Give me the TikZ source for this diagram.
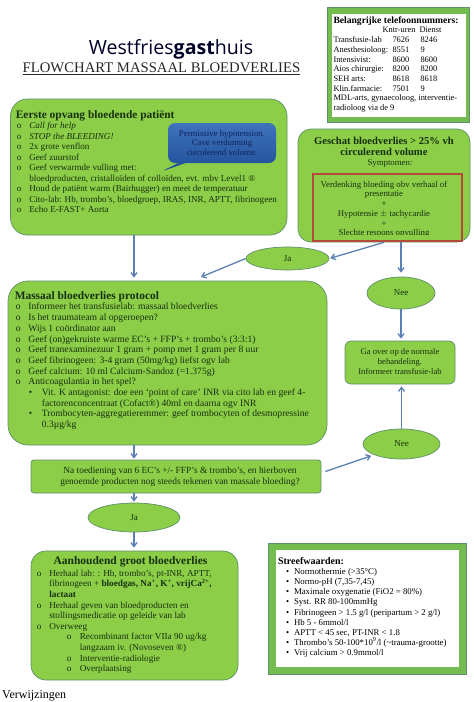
\documentclass[tikz,border=0pt]{standalone}
\usepackage{fontspec}
\setmainfont{Liberation Serif}
\newfontfamily\logofont{Open Sans}
\usetikzlibrary{arrows.meta,calc,positioning,shapes.geometric,shapes.callouts}
\definecolor{FlowGreen}{HTML}{8CCE47}
\definecolor{FlowEdge}{HTML}{5F8F6B}
\definecolor{FlowBlue}{HTML}{5B7FB5}
\definecolor{PanelGreen}{HTML}{74BC50}
\definecolor{AlarmRed}{HTML}{B5493A}
\definecolor{InkGreen}{HTML}{16300F}
\definecolor{CalloutTop}{HTML}{3F73BC}
\definecolor{CalloutBottom}{HTML}{1F4E98}
\definecolor{CalloutInk}{HTML}{10245A}
\newcommand{\oline}[1]{\hspace*{1pt}\makebox[12.5pt][l]{o}#1}
\newcommand{\oindent}[1]{\hspace*{13.5pt}#1}
\newcommand{\dotline}[1]{\hspace*{14pt}\makebox[13pt][l]{\textbullet}#1}
\newcommand{\dotindent}[1]{\hspace*{27pt}#1}
\newcommand{\subline}[1]{\hspace*{31pt}\makebox[13pt][l]{o}#1}
\newcommand{\subindent}[1]{\hspace*{44pt}#1}
\newcommand{\panelline}[1]{\hspace*{8pt}\makebox[8pt][l]{\textbullet}#1}

\begin{document}
\begin{tikzpicture}[x=1pt,y=-1pt,>={Straight Barb[length=4pt,width=6pt]},
  flowbox/.style={draw=FlowEdge,fill=FlowGreen,line width=0.7pt,inner sep=0pt},
  flowoval/.style={ellipse,draw=FlowEdge,fill=FlowGreen,line width=0.7pt,inner sep=0pt,font=\fontsize{9}{10.5}\selectfont,text=InkGreen},
  flowtext/.style={align=left,inner sep=0pt,text=InkGreen,font=\fontsize{9.6}{10.7}\selectfont},
  midtext/.style={align=center,inner sep=0pt,text=InkGreen,font=\fontsize{9}{10}\selectfont},
  panelouter/.style={draw=FlowEdge,fill=PanelGreen,line width=0.6pt,inner sep=0pt},
  panelinner/.style={fill=white,inner sep=0pt},
  flow/.style={->,FlowBlue,line width=1.3pt}]
  \useasboundingbox (0,0) rectangle (474,702);

  \node[inner sep=0pt,text=black!85!blue,font=\logofont\fontsize{19.6}{21}\selectfont] (logo) at (171,49) {Westfries\textbf{gast}huis};
  \node[inner sep=0pt,text=black!85,font=\fontsize{14.7}{18}\selectfont] (title) at (161.5,69) {\underline{FLOWCHART MASSAAL BLOEDVERLIES}};

  % phone numbers
  \node[panelouter,minimum width=142pt,minimum height=115pt] (phoneouter) at (398,64.5) {};
  \node[panelinner,minimum width=134pt,minimum height=103pt] (phone) at (399,65.5) {};
  \node[flowtext,text=black,font=\fontsize{8.4}{9.7}\selectfont,below right=2.5pt and 1.5pt of phone.north west] (phonetext) {%
    {\fontsize{9.6}{10}\selectfont\textbf{Belangrijke telefoonnummers:}}\\
    \makebox[82pt][r]{Kntr-uren}\hspace{4pt}Dienst\\
    \makebox[59pt][l]{Transfusie-lab}\makebox[28pt][l]{7626}8246\\
    \makebox[59pt][l]{Anesthesioloog:}\makebox[28pt][l]{8551}9\\
    \makebox[59pt][l]{Intensivist:}\makebox[28pt][l]{8600}8600\\
    \makebox[59pt][l]{Aios chirurgie:}\makebox[28pt][l]{8200}8200\\
    \makebox[59pt][l]{SEH arts:}\makebox[28pt][l]{8618}8618\\
    \makebox[59pt][l]{Klin.farmacie:}\makebox[28pt][l]{7501}9\\
    MDL-arts, gynaecoloog, interventie-\\
    radioloog via de 9};

  % first box
  \node[flowbox,rounded corners=17pt,minimum width=276.5pt,minimum height=136pt] (first) at (148.75,167) {};
  \node[flowtext,font=\fontsize{9.1}{10.5}\selectfont,below right=11.5pt and 5.5pt of first.north west] (firsttext) {%
    {\fontsize{11.4}{12}\selectfont\textbf{Eerste opvang bloedende patiënt}}\\
    \oline{\textit{Call for help}}\\
    \oline{\textit{STOP the BLEEDING!}}\\
    \oline{2x grote venflon}\\
    \oline{Geef zuurstof}\\
    \oline{Geef verwarmde vulling met:}\\
    \oindent{bloedproducten, cristalloïden of colloïden, evt. mbv Level1 ®}\\
    \oline{Houd de patiënt warm (Bairhugger) en meet de temperatuur}\\
    \oline{Cito-lab: Hb, trombo's, bloedgroep, IRAS, INR, APTT, fibrinogeen}\\
    \oline{Echo E-FAST+ Aorta}};
  \node[rectangle callout,rounded corners=7pt,draw=none,top color=CalloutTop,bottom color=CalloutBottom,
    minimum width=108pt,minimum height=40pt,inner sep=0pt,align=center,text=CalloutInk,font=\fontsize{8.8}{9.4}\selectfont,
    callout absolute pointer={(160,172)}] (permissive) at (222,143) {Permissive hypotension.\\Cave verdunning\\circulerend volume.};

  % estimated loss
  \node[flowbox,rounded corners=13pt,minimum width=172pt,minimum height=113pt] (geschat) at (384,185.5) {};
  \node[midtext,font=\fontsize{10.6}{11.6}\selectfont,below=8pt of geschat.north] (geschattext) {\textbf{Geschat bloedverlies > 25\% vh}\\\textbf{circulerend volume}};
  \node[midtext,font=\fontsize{8.8}{10}\selectfont] (symptomen) at (390,164) {Symptomen:};
  \node[minimum width=149pt,minimum height=67pt,inner sep=0pt] (alarm) at (387.5,207.5) {};
  \begin{scope}
    \clip (alarm.north west) rectangle ($(alarm.south east)+(0,-7)$);
    \node[midtext,font=\fontsize{8.8}{9.7}\selectfont,below=7pt of alarm.north,xshift=-3.5pt] (alarmtext) {Verdenking bloeding obv verhaal of\\presentatie\\+\\Hypotensie $\pm$ tachycardie\\+\\Slechte respons opvulling};
  \end{scope}
  \node[draw=AlarmRed,line width=1.6pt,minimum width=149pt,minimum height=67pt,inner sep=0pt] (alarmframe) at (alarm) {};

  % ovals and side box
  \node[flowoval,minimum width=83pt,minimum height=23pt] (jatop) at (287.5,258.5) {Ja};
  \node[flowoval,minimum width=68pt,minimum height=32pt] (neetop) at (401,293) {Nee};
  \node[flowbox,rounded corners=6pt,minimum width=110pt,minimum height=43pt] (normal) at (400,362.5) {};
  \node[midtext,font=\fontsize{8.6}{9.6}\selectfont,yshift=1pt] (normaltext) at (normal) {Ga over op de normale\\behandeling.\\Informeer transfusie-lab};
  \node[flowoval,minimum width=77pt,minimum height=30pt] (neelow) at (401.5,444) {Nee};

  % protocol
  \node[flowbox,rounded corners=20pt,minimum width=319pt,minimum height=164pt] (massaal) at (167.5,363) {};
  \node[flowtext,below right=10.5pt and 7pt of massaal.north west] (massaaltext) {%
    {\fontsize{11.4}{12}\selectfont\textbf{Massaal bloedverlies protocol}}\\
    \oline{Informeer het transfusielab: massaal bloedverlies}\\
    \oline{Is het traumateam al opgeroepen?}\\
    \oline{Wijs 1 coördinator aan}\\
    \oline{Geef (on)gekruiste warme EC's + FFP's + trombo's (3:3:1)}\\
    \oline{Geef tranexaminezuur 1 gram + pomp met 1 gram per 8 uur}\\
    \oline{Geef fibrinogeen: 3-4 gram (50mg/kg) liefst ogv lab}\\
    \oline{Geef calcium: 10 ml Calcium-Sandoz (=1.375g)}\\
    \oline{Anticoagulantia in het spel?}\\
    \dotline{Vit. K antagonist: doe een `point of care' INR via cito lab en geef 4-}\\
    \dotindent{factorenconcentraat (Cofact®) 40ml en daarna ogv INR}\\
    \dotline{Trombocyten-aggregatieremmer: geef trombocyten of desmopressine}\\
    \dotindent{0.3µg/kg}};

  % question
  \node[flowbox,rounded corners=3pt,minimum width=290pt,minimum height=33pt] (question) at (176,476.5) {};
  \node[midtext,font=\fontsize{9.4}{10.8}\selectfont,xshift=4pt] (questiontext) at (question) {Na toediening van 6 EC's +/- FFP's \& trombo's, en hierboven\\genoemde producten nog steeds tekenen van massale bloeding?};
  \node[flowoval,minimum width=92pt,minimum height=29pt] (jalow) at (134,517.5) {Ja};

  % persistent loss
  \node[flowbox,rounded corners=15pt,minimum width=207pt,minimum height=129pt] (aanhoudend) at (134.5,615.5) {};
  \node[midtext,font=\fontsize{11.5}{12}\selectfont,below=6pt of aanhoudend.north,xshift=-4pt] (aanhoudendtitle) {\textbf{Aanhoudend groot bloedverlies}};
  \node[flowtext,font=\fontsize{9.2}{10.6}\selectfont,below right=19pt and 5pt of aanhoudend.north west] (aanhoudendtext) {%
    \oline{Herhaal lab: : Hb, trombo's, pt-INR, APTT,}\\
    \oindent{fibrinogeen + \textbf{bloedgas, Na\textsuperscript{+}, K\textsuperscript{+}, vrijCa\textsuperscript{2+},}}\\
    \oindent{\textbf{lactaat}}\\
    \oline{Herhaal geven van bloedproducten en}\\
    \oindent{stollingsmedicatie op geleide van lab}\\
    \oline{Overweeg}\\
    \subline{Recombinant factor VIIa 90 ug/kg}\\
    \subindent{langzaam iv. (Novoseven ®)}\\
    \subline{Interventie-radiologie}\\
    \subline{Overplaatsing}};

  % targets
  \node[panelouter,minimum width=198pt,minimum height=131pt] (streefouter) at (367,608.5) {};
  \node[panelinner,minimum width=183pt,minimum height=117pt] (streef) at (367.5,608.5) {};
  \node[flowtext,text=black,font=\fontsize{8.8}{10.1}\selectfont,below right=7.5pt and 2pt of streef.north west] (streeftext) {%
    {\fontsize{10}{10.6}\selectfont\textbf{Streefwaarden:}}\\
    \panelline{Normothermie (>35°C)}\\
    \panelline{Normo-pH (7,35-7,45)}\\
    \panelline{Maximale oxygenatie (FiO2 = 80\%)}\\
    \panelline{Syst. RR 80-100mmHg}\\
    \panelline{Fibrinogeen > 1.5 g/l (peripartum > 2 g/l)}\\
    \panelline{Hb 5 - 6mmol/l}\\
    \panelline{APTT < 45 sec, PT-INR < 1.8}\\
    \panelline{Thrombo's 50-100*10\textsuperscript{9}/l (\textasciitilde trauma-grootte)}\\
    \panelline{Vrij calcium > 0.9mmol/l}};

  \node[anchor=base west,inner sep=0pt,font=\fontsize{12}{13}\selectfont] (verwijzingen) at (2,698) {Verwijzingen};

  % connectors
  \coordinate (midline) at (134,0);
  \coordinate (jatip) at (201,277);
  \draw[flow,shorten >=3pt] (first.south -| midline) -- (massaal.north -| midline);
  \draw[flow,shorten >=1pt] (geschat.south) -- (jatop.east);
  \draw[flow] (jatop.west) -- (jatip);
  \draw[flow,shorten >=4pt] (geschat.south -| neetop.north) -- (neetop.north);
  \draw[flow,shorten >=2pt] (neetop.south) -- (normal.north -| neetop.south);
  \draw[flow,shorten >=2pt] (neelow.north) -- (normal.south -| neelow.north);
  \draw[flow,shorten >=1pt] (massaal.south -| midline) -- (question.north -| midline);
  \draw[flow,shorten >=1pt] (question.south -| midline) -- (jalow.north);
  \draw[flow,shorten >=3pt] (jalow.south) -- (aanhoudend.north -| jalow.south);
  \draw[flow,shorten >=3pt] ($(question.east)+(4,-5)$) -- (neelow.south west);
\end{tikzpicture}
\end{document}
